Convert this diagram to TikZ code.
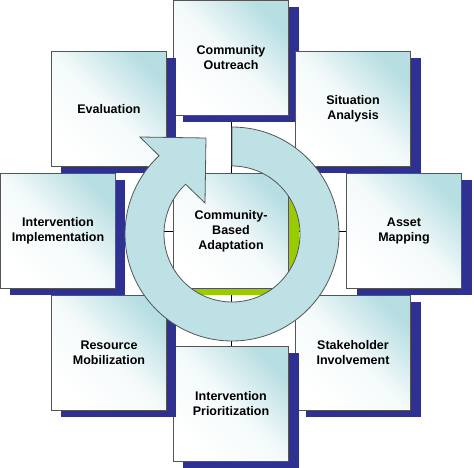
\documentclass[tikz,border=0pt]{standalone}
\usepackage{fontspec}
\setmainfont{Liberation Sans}
\usetikzlibrary{shadows,backgrounds}
\definecolor{boxcyan}{RGB}{183,222,226}
\definecolor{ringcyan}{RGB}{190,225,229}
\definecolor{shadowblue}{RGB}{46,49,146}
\definecolor{cbagreen}{RGB}{153,204,0}
\definecolor{edgegray}{RGB}{85,85,85}

\begin{document}
\begin{tikzpicture}[x=1pt, y=1pt,
  bluedrop/.style={drop shadow={shadow xshift=10pt, shadow yshift=-6pt, fill=shadowblue, opacity=1}},
  greendrop/.style={drop shadow={shadow xshift=10pt, shadow yshift=-6pt, fill=cbagreen, opacity=1}}]
\useasboundingbox (-231,-236) rectangle (243,231);

\begin{scope}[every node/.style={rectangle, draw=edgegray, line width=0.8pt, minimum size=115pt, inner sep=0pt, align=center, font=\fontsize{12.5}{15}\selectfont\bfseries, top color=boxcyan, bottom color=white, middle color=white!85!boxcyan, shading angle=-45}]
\node (outreach) at (0, 173) [bluedrop] {Community\\Outreach};
\node (situation) at (122, 122) [bluedrop] {Situation\\Analysis};
\node (asset) at (173, 0) [bluedrop] {Asset\\Mapping};
\node (stake) at (122, -122) [bluedrop] {Stakeholder\\Involvement};
\node (prior) at (0, -173) [bluedrop] {Intervention\\Prioritization};
\node (resource) at (-122, -122) [bluedrop] {Resource\\Mobilization};
\node (impl) at (-173, 0) [bluedrop] {Intervention\\Implementation};
\node (eval) at (-122, 122) [bluedrop] {Evaluation};
\node (cba) at (0, 0) [greendrop] {Community-\\Based\\Adaptation};
\end{scope}

\begin{scope}[on background layer, edgegray, line width=0.8pt]
\draw (cba) -- (outreach);
\draw (cba) -- (asset);
\draw (cba) -- (prior);
\draw (cba) -- (impl);
\end{scope}

\begin{scope}[shift={(1,-3)}]
\draw [edgegray, fill=ringcyan, line width=0.8pt]
  (90:107) arc[start angle=90, end angle=-227, radius=107]
  -- (-92,97) -- (-26,96) -- (-27,31)
  -- (-227:68) arc[start angle=-227, end angle=90, radius=68] -- cycle;
\end{scope}

\end{tikzpicture}
\end{document}
